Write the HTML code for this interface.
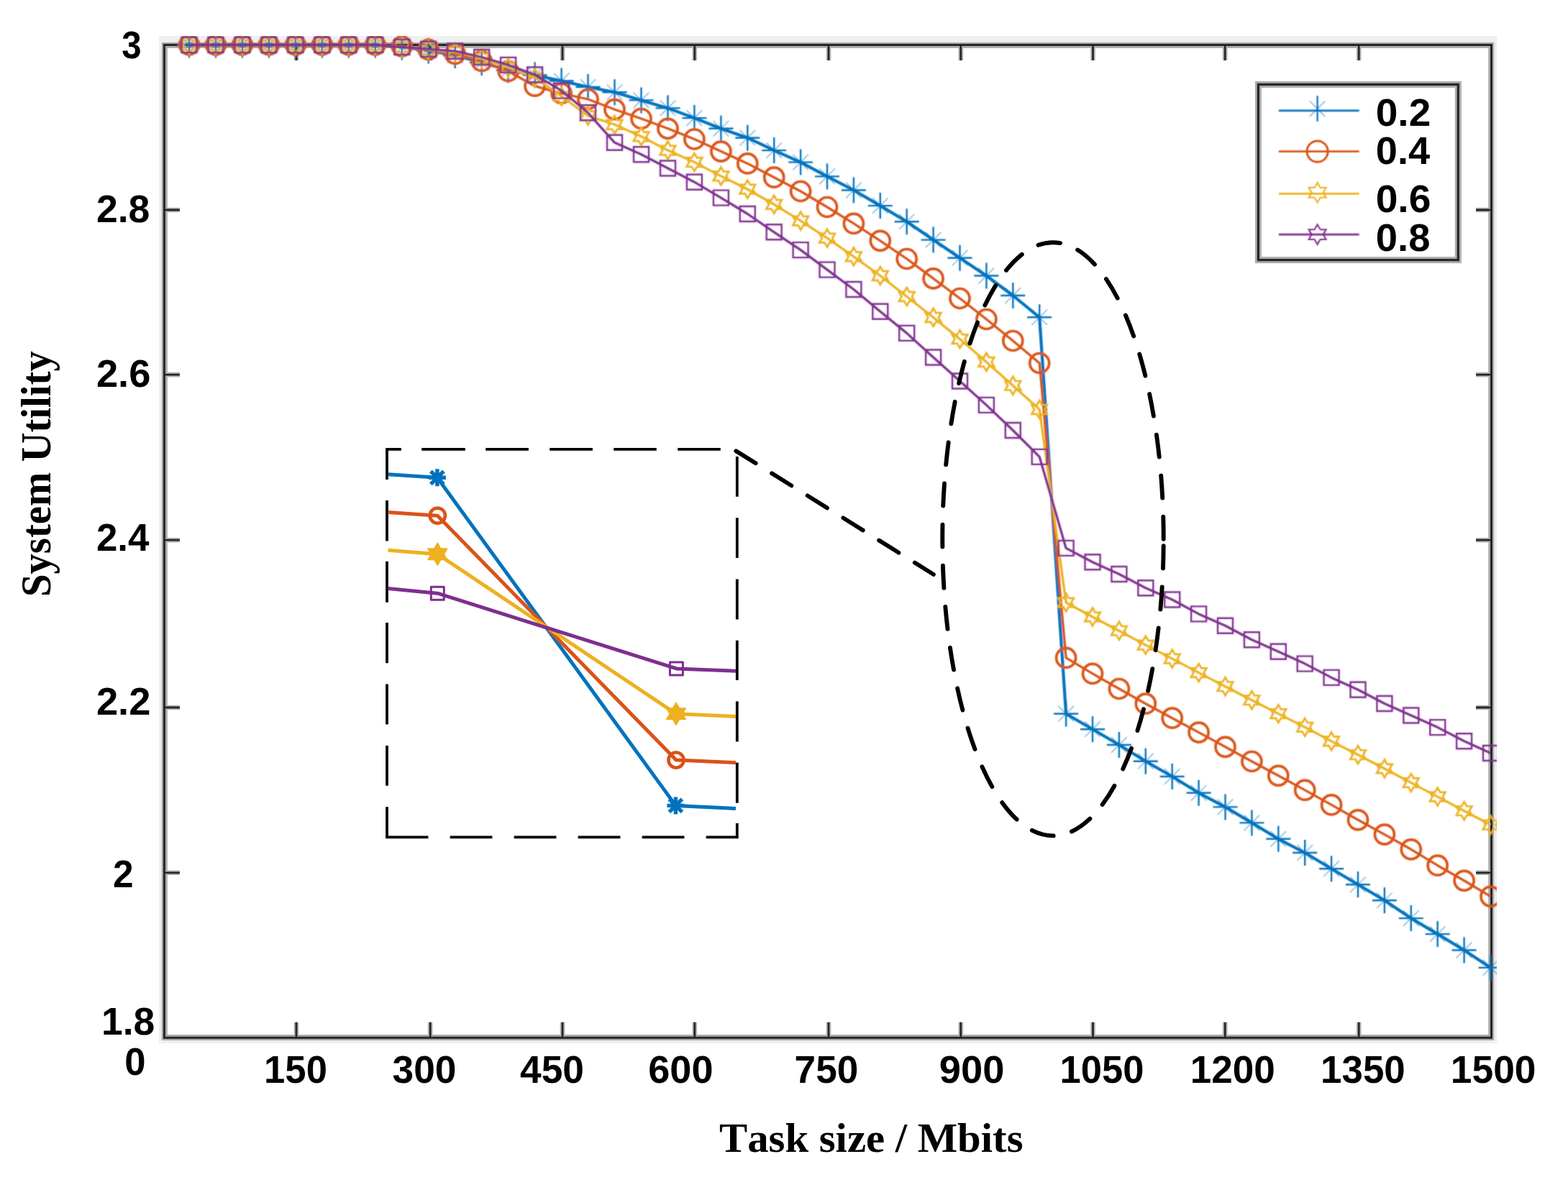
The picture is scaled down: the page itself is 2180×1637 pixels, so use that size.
<!DOCTYPE html>
<html lang="en"><head><meta charset="utf-8"><title>System Utility vs Task size</title>
<style>html,body{margin:0;padding:0;background:#fff}body{width:2180px;height:1637px;overflow:hidden}svg{display:block}.t{font-family:"Liberation Sans",sans-serif;font-weight:700;fill:#000}.s{font-family:"Liberation Serif",serif;font-weight:700;fill:#000;font-kerning:none}</style></head><body>
<svg width="2180" height="1637" viewBox="0 0 2180 1637" role="img" aria-label="System Utility versus Task size">
<clipPath id="c"><rect x="221" y="50.1" width="1860" height="1400.9"/></clipPath>
<filter id="b" x="0" y="0" width="2180" height="1637" filterUnits="userSpaceOnUse"><feGaussianBlur stdDeviation="1" result="g"/><feComposite in="SourceGraphic" in2="g" operator="arithmetic" k1="0" k2=".5" k3=".5" k4="0"/></filter>
<rect width="2180" height="1637" fill="#fff"/>
<rect x="221" y="50.1" width="1860" height="1400.9" fill="#efefef"/>
<g id="axes" fill="none">
<rect x="228.8" y="62.9" width="1844.4" height="1380.1" fill="#fff" stroke="#acacac" stroke-width="8"/>
<path d="M412 1443.3v-21.5M412 62.5v21.5M598.2 1443.3v-21.5M598.2 62.5v21.5M782 1443.3v-21.5M782 62.5v21.5M965.8 1443.3v-21.5M965.8 62.5v21.5M1152 1443.3v-21.5M1152 62.5v21.5M1335.8 1443.3v-21.5M1335.8 62.5v21.5M1519.5 1443.3v-21.5M1519.5 62.5v21.5M1703.2 1443.3v-21.5M1703.2 62.5v21.5M1889.2 1443.3v-21.5M1889.2 62.5v21.5M228.4 292h21.5M2073.5 292h-21.5M228.4 521.1h21.5M2073.5 521.1h-21.5M228.4 751.2h21.5M2073.5 751.2h-21.5M228.4 984h21.5M2073.5 984h-21.5M228.4 1213.8h21.5M2073.5 1213.8h-21.5" stroke="#b4b4b4" stroke-width="6.6"/>
<path d="M412 1443.3v-21.5M412 62.5v21.5M598.2 1443.3v-21.5M598.2 62.5v21.5M782 1443.3v-21.5M782 62.5v21.5M965.8 1443.3v-21.5M965.8 62.5v21.5M1152 1443.3v-21.5M1152 62.5v21.5M1335.8 1443.3v-21.5M1335.8 62.5v21.5M1519.5 1443.3v-21.5M1519.5 62.5v21.5M1703.2 1443.3v-21.5M1703.2 62.5v21.5M1889.2 1443.3v-21.5M1889.2 62.5v21.5M228.4 292h21.5M2073.5 292h-21.5M228.4 521.1h21.5M2073.5 521.1h-21.5M228.4 751.2h21.5M2073.5 751.2h-21.5M228.4 984h21.5M2073.5 984h-21.5M228.4 1213.8h21.5M2073.5 1213.8h-21.5" stroke="#262626" stroke-width="2.8"/>
<rect x="228.4" y="62.5" width="1845.1" height="1380.8" stroke="#262626" stroke-width="3"/>
</g>
<g id="curves" clip-path="url(#c)" fill="none" stroke-linejoin="round"><g filter="url(#b)">
<g stroke="#0072BD">
<polyline points="263,62.5 300,62.5 336.9,62.5 373.9,62.5 410.9,62.5 447.9,62.5 484.8,62.5 521.8,62.5 558.8,65.5 595.7,70.5 632.7,77 669.7,87 706.6,97.6 743.6,104.5 780.6,112.5 817.5,121 854.5,128.3 891.5,139.4 928.5,150.4 965.4,164.1 1002.4,178.8 1039.3,191.7 1076.2,209.1 1113.1,225.6 1150,245.4 1186.9,264.5 1223.8,286.1 1260.7,308.3 1297.6,333.6 1334.5,358.7 1371.4,383.5 1408.3,411 1445.2,441.3 1482.1,992.7 1519,1014.2 1555.9,1036 1592.8,1058.7 1629.7,1080 1666.6,1102.8 1703.5,1122.4 1740.4,1144.4 1777.3,1166.8 1814.2,1186 1851.1,1208.2 1888,1230.3 1924.9,1252.3 1961.8,1277.1 1998.7,1299.1 2035.6,1321.5 2072.5,1345.9" stroke-width="4.2"/>
<path d="M263 44.5V80.5M246 62.5H280M300 44.5V80.5M283 62.5H317M336.9 44.5V80.5M319.9 62.5H353.9M373.9 44.5V80.5M356.9 62.5H390.9M410.9 44.5V80.5M393.9 62.5H427.9M447.9 44.5V80.5M430.9 62.5H464.9M484.8 44.5V80.5M467.8 62.5H501.8M521.8 44.5V80.5M504.8 62.5H538.8M558.8 47.5V83.5M541.8 65.5H575.8M595.7 52.5V88.5M578.7 70.5H612.7M632.7 59V95M615.7 77H649.7M669.7 69V105M652.7 87H686.7M706.6 79.6V115.6M689.6 97.6H723.6M743.6 86.5V122.5M726.6 104.5H760.6M780.6 94.5V130.5M763.6 112.5H797.6M817.5 103V139M800.5 121H834.5M854.5 110.3V146.3M837.5 128.3H871.5M891.5 121.4V157.4M874.5 139.4H908.5M928.5 132.4V168.4M911.5 150.4H945.5M965.4 146.1V182.1M948.4 164.1H982.4M1002.4 160.8V196.8M985.4 178.8H1019.4M1039.3 173.7V209.7M1022.3 191.7H1056.3M1076.2 191.1V227.1M1059.2 209.1H1093.2M1113.1 207.6V243.6M1096.1 225.6H1130.1M1150 227.4V263.4M1133 245.4H1167M1186.9 246.5V282.5M1169.9 264.5H1203.9M1223.8 268.1V304.1M1206.8 286.1H1240.8M1260.7 290.3V326.3M1243.7 308.3H1277.7M1297.6 315.6V351.6M1280.6 333.6H1314.6M1334.5 340.7V376.7M1317.5 358.7H1351.5M1371.4 365.5V401.5M1354.4 383.5H1388.4M1408.3 393V429M1391.3 411H1425.3M1445.2 423.3V459.3M1428.2 441.3H1462.2M1482.1 974.7V1010.7M1465.1 992.7H1499.1M1519 996.2V1032.2M1502 1014.2H1536M1555.9 1018V1054M1538.9 1036H1572.9M1592.8 1040.7V1076.7M1575.8 1058.7H1609.8M1629.7 1062V1098M1612.7 1080H1646.7M1666.6 1084.8V1120.8M1649.6 1102.8H1683.6M1703.5 1104.4V1140.4M1686.5 1122.4H1720.5M1740.4 1126.4V1162.4M1723.4 1144.4H1757.4M1777.3 1148.8V1184.8M1760.3 1166.8H1794.3M1814.2 1168V1204M1797.2 1186H1831.2M1851.1 1190.2V1226.2M1834.1 1208.2H1868.1M1888 1212.3V1248.3M1871 1230.3H1905M1924.9 1234.3V1270.3M1907.9 1252.3H1941.9M1961.8 1259.1V1295.1M1944.8 1277.1H1978.8M1998.7 1281.1V1317.1M1981.7 1299.1H2015.7M2035.6 1303.5V1339.5M2018.6 1321.5H2052.6M2072.5 1327.9V1363.9M2055.5 1345.9H2089.5" stroke-width="2.4"/>
<path d="M252.2 51.7L273.8 73.3M252.2 73.3L273.8 51.7M289.2 51.7L310.8 73.3M289.2 73.3L310.8 51.7M326.1 51.7L347.7 73.3M326.1 73.3L347.7 51.7M363.1 51.7L384.7 73.3M363.1 73.3L384.7 51.7M400.1 51.7L421.7 73.3M400.1 73.3L421.7 51.7M437.1 51.7L458.7 73.3M437.1 73.3L458.7 51.7M474 51.7L495.6 73.3M474 73.3L495.6 51.7M511 51.7L532.6 73.3M511 73.3L532.6 51.7M548 54.7L569.6 76.3M548 76.3L569.6 54.7M584.9 59.7L606.5 81.3M584.9 81.3L606.5 59.7M621.9 66.2L643.5 87.8M621.9 87.8L643.5 66.2M658.9 76.2L680.5 97.8M658.9 97.8L680.5 76.2M695.8 86.8L717.4 108.4M695.8 108.4L717.4 86.8M732.8 93.7L754.4 115.3M732.8 115.3L754.4 93.7M769.8 101.7L791.4 123.3M769.8 123.3L791.4 101.7M806.8 110.2L828.3 131.8M806.8 131.8L828.3 110.2M843.7 117.5L865.3 139.1M843.7 139.1L865.3 117.5M880.7 128.6L902.3 150.2M880.7 150.2L902.3 128.6M917.7 139.6L939.3 161.2M917.7 161.2L939.3 139.6M954.6 153.3L976.2 174.9M954.6 174.9L976.2 153.3M991.6 168L1013.2 189.6M991.6 189.6L1013.2 168M1028.5 180.9L1050.1 202.5M1028.5 202.5L1050.1 180.9M1065.4 198.3L1087 219.9M1065.4 219.9L1087 198.3M1102.3 214.8L1123.9 236.4M1102.3 236.4L1123.9 214.8M1139.2 234.6L1160.8 256.2M1139.2 256.2L1160.8 234.6M1176.1 253.7L1197.7 275.3M1176.1 275.3L1197.7 253.7M1213 275.3L1234.6 296.9M1213 296.9L1234.6 275.3M1249.9 297.5L1271.5 319.1M1249.9 319.1L1271.5 297.5M1286.8 322.8L1308.4 344.4M1286.8 344.4L1308.4 322.8M1323.7 347.9L1345.3 369.5M1323.7 369.5L1345.3 347.9M1360.6 372.7L1382.2 394.3M1360.6 394.3L1382.2 372.7M1397.5 400.2L1419.1 421.8M1397.5 421.8L1419.1 400.2M1434.4 430.5L1456 452.1M1434.4 452.1L1456 430.5M1471.3 981.9L1492.9 1003.5M1471.3 1003.5L1492.9 981.9M1508.2 1003.4L1529.8 1025M1508.2 1025L1529.8 1003.4M1545.1 1025.2L1566.7 1046.8M1545.1 1046.8L1566.7 1025.2M1582 1047.9L1603.6 1069.5M1582 1069.5L1603.6 1047.9M1618.9 1069.2L1640.5 1090.8M1618.9 1090.8L1640.5 1069.2M1655.8 1092L1677.4 1113.6M1655.8 1113.6L1677.4 1092M1692.7 1111.6L1714.3 1133.2M1692.7 1133.2L1714.3 1111.6M1729.6 1133.6L1751.2 1155.2M1729.6 1155.2L1751.2 1133.6M1766.5 1156L1788.1 1177.6M1766.5 1177.6L1788.1 1156M1803.4 1175.2L1825 1196.8M1803.4 1196.8L1825 1175.2M1840.3 1197.4L1861.9 1219M1840.3 1219L1861.9 1197.4M1877.2 1219.5L1898.8 1241.1M1877.2 1241.1L1898.8 1219.5M1914.1 1241.5L1935.7 1263.1M1914.1 1263.1L1935.7 1241.5M1951 1266.3L1972.6 1287.9M1951 1287.9L1972.6 1266.3M1987.9 1288.3L2009.5 1309.9M1987.9 1309.9L2009.5 1288.3M2024.8 1310.7L2046.4 1332.3M2024.8 1332.3L2046.4 1310.7M2061.7 1335.1L2083.3 1356.7M2061.7 1356.7L2083.3 1335.1" stroke-width="1.7" stroke-opacity=".45"/>
</g>
<g stroke="#D95319">
<polyline points="263,62.5 300,62.5 336.9,62.5 373.9,62.5 410.9,62.5 447.9,62.5 484.8,62.5 521.8,62.5 558.8,64.5 595.7,69 632.7,75 669.7,85 706.6,99 743.6,119.7 780.6,130 817.5,138 854.5,152.2 891.5,165 928.5,178.8 965.4,193.5 1002.4,210.6 1039.3,227.4 1076.2,246.7 1113.1,266 1150,288 1186.9,310.9 1223.8,334.8 1260.7,360 1297.6,387.3 1334.5,415 1371.4,444 1408.3,474 1445.2,505 1482.1,914.9 1519,936.9 1555.9,958 1592.8,978.7 1629.7,998.7 1666.6,1018.6 1703.5,1038.8 1740.4,1059 1777.3,1078.8 1814.2,1098.9 1851.1,1119.4 1888,1140.3 1924.9,1160.6 1961.8,1181.3 1998.7,1203.7 2035.6,1224.8 2072.5,1246.8" stroke-width="3.3"/>
<path d="M249.5 62.5a13.5 13.5 0 1 0 27 0a13.5 13.5 0 1 0 -27 0ZM286.5 62.5a13.5 13.5 0 1 0 27 0a13.5 13.5 0 1 0 -27 0ZM323.4 62.5a13.5 13.5 0 1 0 27 0a13.5 13.5 0 1 0 -27 0ZM360.4 62.5a13.5 13.5 0 1 0 27 0a13.5 13.5 0 1 0 -27 0ZM397.4 62.5a13.5 13.5 0 1 0 27 0a13.5 13.5 0 1 0 -27 0ZM434.4 62.5a13.5 13.5 0 1 0 27 0a13.5 13.5 0 1 0 -27 0ZM471.3 62.5a13.5 13.5 0 1 0 27 0a13.5 13.5 0 1 0 -27 0ZM508.3 62.5a13.5 13.5 0 1 0 27 0a13.5 13.5 0 1 0 -27 0ZM545.3 64.5a13.5 13.5 0 1 0 27 0a13.5 13.5 0 1 0 -27 0ZM582.2 69a13.5 13.5 0 1 0 27 0a13.5 13.5 0 1 0 -27 0ZM619.2 75a13.5 13.5 0 1 0 27 0a13.5 13.5 0 1 0 -27 0ZM656.2 85a13.5 13.5 0 1 0 27 0a13.5 13.5 0 1 0 -27 0ZM693.1 99a13.5 13.5 0 1 0 27 0a13.5 13.5 0 1 0 -27 0ZM730.1 119.7a13.5 13.5 0 1 0 27 0a13.5 13.5 0 1 0 -27 0ZM767.1 130a13.5 13.5 0 1 0 27 0a13.5 13.5 0 1 0 -27 0ZM804 138a13.5 13.5 0 1 0 27 0a13.5 13.5 0 1 0 -27 0ZM841 152.2a13.5 13.5 0 1 0 27 0a13.5 13.5 0 1 0 -27 0ZM878 165a13.5 13.5 0 1 0 27 0a13.5 13.5 0 1 0 -27 0ZM915 178.8a13.5 13.5 0 1 0 27 0a13.5 13.5 0 1 0 -27 0ZM951.9 193.5a13.5 13.5 0 1 0 27 0a13.5 13.5 0 1 0 -27 0ZM988.9 210.6a13.5 13.5 0 1 0 27 0a13.5 13.5 0 1 0 -27 0ZM1025.8 227.4a13.5 13.5 0 1 0 27 0a13.5 13.5 0 1 0 -27 0ZM1062.7 246.7a13.5 13.5 0 1 0 27 0a13.5 13.5 0 1 0 -27 0ZM1099.6 266a13.5 13.5 0 1 0 27 0a13.5 13.5 0 1 0 -27 0ZM1136.5 288a13.5 13.5 0 1 0 27 0a13.5 13.5 0 1 0 -27 0ZM1173.4 310.9a13.5 13.5 0 1 0 27 0a13.5 13.5 0 1 0 -27 0ZM1210.3 334.8a13.5 13.5 0 1 0 27 0a13.5 13.5 0 1 0 -27 0ZM1247.2 360a13.5 13.5 0 1 0 27 0a13.5 13.5 0 1 0 -27 0ZM1284.1 387.3a13.5 13.5 0 1 0 27 0a13.5 13.5 0 1 0 -27 0ZM1321 415a13.5 13.5 0 1 0 27 0a13.5 13.5 0 1 0 -27 0ZM1357.9 444a13.5 13.5 0 1 0 27 0a13.5 13.5 0 1 0 -27 0ZM1394.8 474a13.5 13.5 0 1 0 27 0a13.5 13.5 0 1 0 -27 0ZM1431.7 505a13.5 13.5 0 1 0 27 0a13.5 13.5 0 1 0 -27 0ZM1468.6 914.9a13.5 13.5 0 1 0 27 0a13.5 13.5 0 1 0 -27 0ZM1505.5 936.9a13.5 13.5 0 1 0 27 0a13.5 13.5 0 1 0 -27 0ZM1542.4 958a13.5 13.5 0 1 0 27 0a13.5 13.5 0 1 0 -27 0ZM1579.3 978.7a13.5 13.5 0 1 0 27 0a13.5 13.5 0 1 0 -27 0ZM1616.2 998.7a13.5 13.5 0 1 0 27 0a13.5 13.5 0 1 0 -27 0ZM1653.1 1018.6a13.5 13.5 0 1 0 27 0a13.5 13.5 0 1 0 -27 0ZM1690 1038.8a13.5 13.5 0 1 0 27 0a13.5 13.5 0 1 0 -27 0ZM1726.9 1059a13.5 13.5 0 1 0 27 0a13.5 13.5 0 1 0 -27 0ZM1763.8 1078.8a13.5 13.5 0 1 0 27 0a13.5 13.5 0 1 0 -27 0ZM1800.7 1098.9a13.5 13.5 0 1 0 27 0a13.5 13.5 0 1 0 -27 0ZM1837.6 1119.4a13.5 13.5 0 1 0 27 0a13.5 13.5 0 1 0 -27 0ZM1874.5 1140.3a13.5 13.5 0 1 0 27 0a13.5 13.5 0 1 0 -27 0ZM1911.4 1160.6a13.5 13.5 0 1 0 27 0a13.5 13.5 0 1 0 -27 0ZM1948.3 1181.3a13.5 13.5 0 1 0 27 0a13.5 13.5 0 1 0 -27 0ZM1985.2 1203.7a13.5 13.5 0 1 0 27 0a13.5 13.5 0 1 0 -27 0ZM2022.1 1224.8a13.5 13.5 0 1 0 27 0a13.5 13.5 0 1 0 -27 0ZM2059 1246.8a13.5 13.5 0 1 0 27 0a13.5 13.5 0 1 0 -27 0Z" stroke-width="3.7"/>
</g>
<g stroke="#EDB120">
<polyline points="263,62.5 300,62.5 336.9,62.5 373.9,62.5 410.9,62.5 447.9,62.5 484.8,62.5 521.8,62.5 558.8,65.5 595.7,69 632.7,72.5 669.7,81 706.6,94 743.6,108 780.6,134 817.5,161 854.5,173.3 891.5,189.8 928.5,209.1 965.4,225.6 1002.4,244.9 1039.3,263.2 1076.2,284.3 1113.1,307.2 1150,331.1 1186.9,356.8 1223.8,383.5 1260.7,412.5 1297.6,441.5 1334.5,471.6 1371.4,503.5 1408.3,536.3 1445.2,569.5 1482.1,838 1519,858 1555.9,877.2 1592.8,897.1 1629.7,916.1 1666.6,935.6 1703.5,954.7 1740.4,973.7 1777.3,992.6 1814.2,1011.4 1851.1,1030.9 1888,1049.7 1924.9,1069 1961.8,1088.6 1998.7,1108.1 2035.6,1127.7 2072.5,1147.3" stroke-width="3.3"/>
<path d="M263 50L266.6 56.2L273.8 56.2L270.2 62.5L273.8 68.8L266.6 68.8L263 75L259.4 68.8L252.2 68.8L255.8 62.5L252.2 56.2L259.4 56.2ZM300 50L303.6 56.2L310.8 56.2L307.2 62.5L310.8 68.8L303.6 68.8L300 75L296.4 68.8L289.1 68.8L292.8 62.5L289.1 56.2L296.4 56.2ZM336.9 50L340.5 56.2L347.8 56.2L344.2 62.5L347.8 68.8L340.5 68.8L336.9 75L333.3 68.8L326.1 68.8L329.7 62.5L326.1 56.2L333.3 56.2ZM373.9 50L377.5 56.2L384.7 56.2L381.1 62.5L384.7 68.8L377.5 68.8L373.9 75L370.3 68.8L363.1 68.8L366.7 62.5L363.1 56.2L370.3 56.2ZM410.9 50L414.5 56.2L421.7 56.2L418.1 62.5L421.7 68.8L414.5 68.8L410.9 75L407.3 68.8L400.1 68.8L403.7 62.5L400.1 56.2L407.3 56.2ZM447.9 50L451.5 56.2L458.7 56.2L455.1 62.5L458.7 68.8L451.5 68.8L447.9 75L444.2 68.8L437 68.8L440.6 62.5L437 56.2L444.2 56.2ZM484.8 50L488.4 56.2L495.6 56.2L492 62.5L495.6 68.8L488.4 68.8L484.8 75L481.2 68.8L474 68.8L477.6 62.5L474 56.2L481.2 56.2ZM521.8 50L525.4 56.2L532.6 56.2L529 62.5L532.6 68.8L525.4 68.8L521.8 75L518.2 68.8L511 68.8L514.6 62.5L511 56.2L518.2 56.2ZM558.8 53L562.4 59.2L569.6 59.2L566 65.5L569.6 71.8L562.4 71.8L558.8 78L555.2 71.8L547.9 71.8L551.5 65.5L547.9 59.2L555.2 59.2ZM595.7 56.5L599.3 62.8L606.6 62.8L602.9 69L606.6 75.2L599.3 75.2L595.7 81.5L592.1 75.2L584.9 75.2L588.5 69L584.9 62.8L592.1 62.8ZM632.7 60L636.3 66.2L643.5 66.2L639.9 72.5L643.5 78.8L636.3 78.8L632.7 85L629.1 78.8L621.9 78.8L625.5 72.5L621.9 66.2L629.1 66.2ZM669.7 68.5L673.3 74.8L680.5 74.8L676.9 81L680.5 87.2L673.3 87.2L669.7 93.5L666.1 87.2L658.8 87.2L662.5 81L658.8 74.8L666.1 74.8ZM706.6 81.5L710.2 87.8L717.5 87.8L713.9 94L717.5 100.2L710.2 100.2L706.6 106.5L703 100.2L695.8 100.2L699.4 94L695.8 87.8L703 87.8ZM743.6 95.5L747.2 101.8L754.4 101.8L750.8 108L754.4 114.2L747.2 114.2L743.6 120.5L740 114.2L732.8 114.2L736.4 108L732.8 101.8L740 101.8ZM780.6 121.5L784.2 127.8L791.4 127.8L787.8 134L791.4 140.2L784.2 140.2L780.6 146.5L777 140.2L769.8 140.2L773.4 134L769.8 127.8L777 127.8ZM817.5 148.5L821.2 154.8L828.4 154.8L824.8 161L828.4 167.2L821.2 167.2L817.5 173.5L813.9 167.2L806.7 167.2L810.3 161L806.7 154.8L813.9 154.8ZM854.5 160.8L858.1 167.1L865.3 167.1L861.7 173.3L865.3 179.6L858.1 179.6L854.5 185.8L850.9 179.6L843.7 179.6L847.3 173.3L843.7 167.1L850.9 167.1ZM891.5 177.3L895.1 183.6L902.3 183.6L898.7 189.8L902.3 196.1L895.1 196.1L891.5 202.3L887.9 196.1L880.7 196.1L884.3 189.8L880.7 183.6L887.9 183.6ZM928.5 196.6L932.1 202.8L939.3 202.8L935.7 209.1L939.3 215.3L932.1 215.3L928.5 221.6L924.9 215.3L917.6 215.3L921.2 209.1L917.6 202.8L924.9 202.8ZM965.4 213.1L969 219.3L976.3 219.3L972.6 225.6L976.3 231.8L969 231.8L965.4 238.1L961.8 231.8L954.6 231.8L958.2 225.6L954.6 219.3L961.8 219.3ZM1002.4 232.4L1006 238.7L1013.2 238.7L1009.6 244.9L1013.2 251.2L1006 251.2L1002.4 257.4L998.8 251.2L991.6 251.2L995.2 244.9L991.6 238.7L998.8 238.7ZM1039.3 250.7L1042.9 256.9L1050.1 256.9L1046.5 263.2L1050.1 269.4L1042.9 269.4L1039.3 275.7L1035.7 269.4L1028.5 269.4L1032.1 263.2L1028.5 256.9L1035.7 256.9ZM1076.2 271.8L1079.8 278.1L1087 278.1L1083.4 284.3L1087 290.6L1079.8 290.6L1076.2 296.8L1072.6 290.6L1065.4 290.6L1069 284.3L1065.4 278.1L1072.6 278.1ZM1113.1 294.7L1116.7 300.9L1123.9 300.9L1120.3 307.2L1123.9 313.4L1116.7 313.4L1113.1 319.7L1109.5 313.4L1102.3 313.4L1105.9 307.2L1102.3 300.9L1109.5 300.9ZM1150 318.6L1153.6 324.9L1160.8 324.9L1157.2 331.1L1160.8 337.4L1153.6 337.4L1150 343.6L1146.4 337.4L1139.2 337.4L1142.8 331.1L1139.2 324.9L1146.4 324.9ZM1186.9 344.3L1190.5 350.6L1197.7 350.6L1194.1 356.8L1197.7 363.1L1190.5 363.1L1186.9 369.3L1183.3 363.1L1176.1 363.1L1179.7 356.8L1176.1 350.6L1183.3 350.6ZM1223.8 371L1227.4 377.2L1234.6 377.2L1231 383.5L1234.6 389.8L1227.4 389.8L1223.8 396L1220.2 389.8L1213 389.8L1216.6 383.5L1213 377.2L1220.2 377.2ZM1260.7 400L1264.3 406.2L1271.5 406.2L1267.9 412.5L1271.5 418.8L1264.3 418.8L1260.7 425L1257.1 418.8L1249.9 418.8L1253.5 412.5L1249.9 406.2L1257.1 406.2ZM1297.6 429L1301.2 435.2L1308.4 435.2L1304.8 441.5L1308.4 447.8L1301.2 447.8L1297.6 454L1294 447.8L1286.8 447.8L1290.4 441.5L1286.8 435.2L1294 435.2ZM1334.5 459.1L1338.1 465.4L1345.3 465.4L1341.7 471.6L1345.3 477.9L1338.1 477.9L1334.5 484.1L1330.9 477.9L1323.7 477.9L1327.3 471.6L1323.7 465.4L1330.9 465.4ZM1371.4 491L1375 497.2L1382.2 497.2L1378.6 503.5L1382.2 509.8L1375 509.8L1371.4 516L1367.8 509.8L1360.6 509.8L1364.2 503.5L1360.6 497.2L1367.8 497.2ZM1408.3 523.8L1411.9 530L1419.1 530L1415.5 536.3L1419.1 542.5L1411.9 542.5L1408.3 548.8L1404.7 542.5L1397.5 542.5L1401.1 536.3L1397.5 530L1404.7 530ZM1445.2 557L1448.8 563.2L1456 563.2L1452.4 569.5L1456 575.8L1448.8 575.8L1445.2 582L1441.6 575.8L1434.4 575.8L1438 569.5L1434.4 563.2L1441.6 563.2ZM1482.1 825.5L1485.7 831.8L1492.9 831.8L1489.3 838L1492.9 844.2L1485.7 844.2L1482.1 850.5L1478.5 844.2L1471.3 844.2L1474.9 838L1471.3 831.8L1478.5 831.8ZM1519 845.5L1522.6 851.8L1529.8 851.8L1526.2 858L1529.8 864.2L1522.6 864.2L1519 870.5L1515.4 864.2L1508.2 864.2L1511.8 858L1508.2 851.8L1515.4 851.8ZM1555.9 864.7L1559.5 871L1566.7 871L1563.1 877.2L1566.7 883.5L1559.5 883.5L1555.9 889.7L1552.3 883.5L1545.1 883.5L1548.7 877.2L1545.1 871L1552.3 871ZM1592.8 884.6L1596.4 890.9L1603.6 890.9L1600 897.1L1603.6 903.4L1596.4 903.4L1592.8 909.6L1589.2 903.4L1582 903.4L1585.6 897.1L1582 890.9L1589.2 890.9ZM1629.7 903.6L1633.3 909.9L1640.5 909.9L1636.9 916.1L1640.5 922.4L1633.3 922.4L1629.7 928.6L1626.1 922.4L1618.9 922.4L1622.5 916.1L1618.9 909.9L1626.1 909.9ZM1666.6 923.1L1670.2 929.4L1677.4 929.4L1673.8 935.6L1677.4 941.9L1670.2 941.9L1666.6 948.1L1663 941.9L1655.8 941.9L1659.4 935.6L1655.8 929.4L1663 929.4ZM1703.5 942.2L1707.1 948.5L1714.3 948.5L1710.7 954.7L1714.3 961L1707.1 961L1703.5 967.2L1699.9 961L1692.7 961L1696.3 954.7L1692.7 948.5L1699.9 948.5ZM1740.4 961.2L1744 967.5L1751.2 967.5L1747.6 973.7L1751.2 980L1744 980L1740.4 986.2L1736.8 980L1729.6 980L1733.2 973.7L1729.6 967.5L1736.8 967.5ZM1777.3 980.1L1780.9 986.4L1788.1 986.4L1784.5 992.6L1788.1 998.9L1780.9 998.9L1777.3 1005.1L1773.7 998.9L1766.5 998.9L1770.1 992.6L1766.5 986.4L1773.7 986.4ZM1814.2 998.9L1817.8 1005.1L1825 1005.1L1821.4 1011.4L1825 1017.6L1817.8 1017.6L1814.2 1023.9L1810.6 1017.6L1803.4 1017.6L1807 1011.4L1803.4 1005.1L1810.6 1005.1ZM1851.1 1018.4L1854.7 1024.7L1861.9 1024.7L1858.3 1030.9L1861.9 1037.2L1854.7 1037.2L1851.1 1043.4L1847.5 1037.2L1840.3 1037.2L1843.9 1030.9L1840.3 1024.7L1847.5 1024.7ZM1888 1037.2L1891.6 1043.5L1898.8 1043.5L1895.2 1049.7L1898.8 1056L1891.6 1056L1888 1062.2L1884.4 1056L1877.2 1056L1880.8 1049.7L1877.2 1043.5L1884.4 1043.5ZM1924.9 1056.5L1928.5 1062.8L1935.7 1062.8L1932.1 1069L1935.7 1075.2L1928.5 1075.2L1924.9 1081.5L1921.3 1075.2L1914.1 1075.2L1917.7 1069L1914.1 1062.8L1921.3 1062.8ZM1961.8 1076.1L1965.4 1082.3L1972.6 1082.3L1969 1088.6L1972.6 1094.8L1965.4 1094.8L1961.8 1101.1L1958.2 1094.8L1951 1094.8L1954.6 1088.6L1951 1082.3L1958.2 1082.3ZM1998.7 1095.6L2002.3 1101.8L2009.5 1101.8L2005.9 1108.1L2009.5 1114.3L2002.3 1114.3L1998.7 1120.6L1995.1 1114.3L1987.9 1114.3L1991.5 1108.1L1987.9 1101.8L1995.1 1101.8ZM2035.6 1115.2L2039.2 1121.5L2046.4 1121.5L2042.8 1127.7L2046.4 1134L2039.2 1134L2035.6 1140.2L2032 1134L2024.8 1134L2028.4 1127.7L2024.8 1121.5L2032 1121.5ZM2072.5 1134.8L2076.1 1141L2083.3 1141L2079.7 1147.3L2083.3 1153.5L2076.1 1153.5L2072.5 1159.8L2068.9 1153.5L2061.7 1153.5L2065.3 1147.3L2061.7 1141L2068.9 1141Z" stroke-width="2.7" stroke-linejoin="miter"/>
</g>
<g stroke="#7E2F8E">
<polyline points="263,62.5 300,62.5 336.9,62.5 373.9,62.5 410.9,62.5 447.9,62.5 484.8,62.5 521.8,62.5 558.8,65.5 595.7,68.4 632.7,71.2 669.7,79.5 706.6,90.4 743.6,104 780.6,126.1 817.5,156.8 854.5,198.3 891.5,214.7 928.5,234 965.4,253.2 1002.4,275.1 1039.3,297.5 1076.2,322.8 1113.1,347.6 1150,375.1 1186.9,402.5 1223.8,433.3 1260.7,463.4 1297.6,497 1334.5,530 1371.4,563.4 1408.3,598.5 1445.2,635.4 1482.1,762.4 1519,781.8 1555.9,798.5 1592.8,817.8 1629.7,834 1666.6,853.9 1703.5,870.3 1740.4,889.7 1777.3,906.2 1814.2,923.1 1851.1,942.4 1888,959.3 1924.9,978.5 1961.8,995 1998.7,1011.6 2035.6,1030.8 2072.5,1047.5" stroke-width="3.3"/>
<path d="M252.5 52h21v21h-21ZM289.5 52h21v21h-21ZM326.4 52h21v21h-21ZM363.4 52h21v21h-21ZM400.4 52h21v21h-21ZM437.4 52h21v21h-21ZM474.3 52h21v21h-21ZM511.3 52h21v21h-21ZM548.3 55h21v21h-21ZM585.2 57.9h21v21h-21ZM622.2 60.7h21v21h-21ZM659.2 69h21v21h-21ZM696.1 79.9h21v21h-21ZM733.1 93.5h21v21h-21ZM770.1 115.6h21v21h-21ZM807 146.3h21v21h-21ZM844 187.8h21v21h-21ZM881 204.2h21v21h-21ZM918 223.5h21v21h-21ZM954.9 242.7h21v21h-21ZM991.9 264.6h21v21h-21ZM1028.8 287h21v21h-21ZM1065.7 312.3h21v21h-21ZM1102.6 337.1h21v21h-21ZM1139.5 364.6h21v21h-21ZM1176.4 392h21v21h-21ZM1213.3 422.8h21v21h-21ZM1250.2 452.9h21v21h-21ZM1287.1 486.5h21v21h-21ZM1324 519.5h21v21h-21ZM1360.9 552.9h21v21h-21ZM1397.8 588h21v21h-21ZM1434.7 624.9h21v21h-21ZM1471.6 751.9h21v21h-21ZM1508.5 771.3h21v21h-21ZM1545.4 788h21v21h-21ZM1582.3 807.3h21v21h-21ZM1619.2 823.5h21v21h-21ZM1656.1 843.4h21v21h-21ZM1693 859.8h21v21h-21ZM1729.9 879.2h21v21h-21ZM1766.8 895.7h21v21h-21ZM1803.7 912.6h21v21h-21ZM1840.6 931.9h21v21h-21ZM1877.5 948.8h21v21h-21ZM1914.4 968h21v21h-21ZM1951.3 984.5h21v21h-21ZM1988.2 1001.1h21v21h-21ZM2025.1 1020.3h21v21h-21ZM2062 1037h21v21h-21Z" stroke-width="2.4" stroke-linejoin="miter"/>
</g>
</g></g>
<g id="annot" fill="none" stroke="#000">
<path id="ell" d="M1617.7 749.8A153.7 412.2 0 1 0 1310.3 749.8A153.7 412.2 0 1 0 1617.7 749.8" stroke-width="5.9" stroke-linecap="round" stroke-dasharray="31.1 26.16"/>
<path d="M1023.3 627.2L1297.9 798.9" stroke-width="5.8" stroke-linecap="round" stroke-dasharray="32.3 26.3"/>
<path d="M536.2 624.8H557.8M586.2 624.8H646.8M675.2 624.8H734.9M764.2 624.8H823.9M853.2 624.8H912.8M942.2 624.8H1001.8M536.2 1164.4H595.4M625.7 1164.4H684.4M714.7 1164.4H773.4M803.7 1164.4H862.4M892.7 1164.4H951.4M981.7 1164.4H1026.6M538 623V667.1M538 696.1V752.4M538 780.8V837.7M538 866.1V922.2M538 951.6V1007.5M538 1036.9V1092.8M538 1122.2V1166.2M1024.8 634.9V690.8M1024.8 720.2V776.1M1024.8 805.5V861.5M1024.8 890.8V946.1M1024.8 975.4V1031.4M1024.8 1060.7V1116.7M1024.8 1145.1V1166.2" stroke-width="3.8"/>
</g>
<g id="inset" fill="none" stroke-width="5" stroke-linejoin="round">
<polyline points="539.6,659.7 607.9,664.3 939.4,1120.4 1023,1124.6" stroke="#0072BD"/>
<polyline points="539.6,712.6 608.3,717.2 940,1057.1 1023,1060.7" stroke="#D95319"/>
<polyline points="539.6,765.2 608.3,770.7 940,992.8 1023,996.5" stroke="#EDB120"/>
<polyline points="539.6,818.4 608.3,825.2 940.4,929.9 1023,933.2" stroke="#7E2F8E"/>
<path d="M607.9 652.3V676.3M595.9 664.3H619.9M598.9 655.3L616.9 673.3M598.9 673.3L616.9 655.3" stroke="#0072BD" stroke-width="5.4"/>
<path d="M939.4 1108.4V1132.4M927.4 1120.4H951.4M930.4 1111.4L948.4 1129.4M930.4 1129.4L948.4 1111.4" stroke="#0072BD" stroke-width="5.4"/>
<circle cx="608.3" cy="717.2" r="10.6" stroke="#D95319" stroke-width="4.6"/>
<circle cx="940" cy="1057.1" r="10.6" stroke="#D95319" stroke-width="4.6"/>
<path d="M608.3 755.2L612.8 763L621.7 763L617.2 770.7L621.7 778.5L612.8 778.5L608.3 786.2L603.8 778.5L594.9 778.5L599.4 770.7L594.9 763L603.8 763Z" fill="#EDB120" stroke="#EDB120" stroke-width="1.5"/>
<path d="M940 977.3L944.5 985L953.4 985L948.9 992.8L953.4 1000.5L944.5 1000.5L940 1008.3L935.5 1000.5L926.6 1000.5L931.1 992.8L926.6 985L935.5 985Z" fill="#EDB120" stroke="#EDB120" stroke-width="1.5"/>
<path d="M599.3 816.2h18v18h-18Z" stroke="#7E2F8E" stroke-width="3"/>
<path d="M931.4 920.9h18v18h-18Z" stroke="#7E2F8E" stroke-width="3"/>
</g>
<g id="legend" fill="none">
<rect x="1749.4" y="117.5" width="277.9" height="244.1" fill="#fff" stroke="#adadad" stroke-width="9"/>
<rect x="1749.4" y="117.5" width="277.9" height="244.1" stroke="#262626" stroke-width="3.2"/>
<g filter="url(#b)">
<path d="M1777.8 153.9H1889.7" stroke="#0072BD" stroke-width="2.9"/>
<path d="M1777.8 210.6H1889.7" stroke="#D95319" stroke-width="2.9"/>
<path d="M1777.8 269.4H1889.7" stroke="#EDB120" stroke-width="2.9"/>
<path d="M1777.8 326.1H1889.7" stroke="#7E2F8E" stroke-width="2.9"/>
<path d="M1831.6 133.2V168.9" stroke="#0072BD" stroke-width="2.3"/><path d="M1820.8 140.5L1842.4 162.1M1820.8 162.1L1842.4 140.5" stroke="#0072BD" stroke-width="1.6" stroke-opacity=".5"/>
<path d="M1817 210.6a14.6 14.6 0 1 0 29.2 0a14.6 14.6 0 1 0 -29.2 0Z" stroke="#D95319" stroke-width="3"/>
<path d="M1831.6 254.1L1835.6 261L1843.6 261L1839.6 267.9L1843.6 274.8L1835.6 274.8L1831.6 281.7L1827.6 274.8L1819.6 274.8L1823.6 267.9L1819.6 261L1827.6 261Z" stroke="#EDB120" stroke-width="2.1"/>
<path d="M1831.6 312.3L1835.6 319.2L1843.6 319.2L1839.6 326.1L1843.6 333L1835.6 333L1831.6 339.9L1827.6 333L1819.6 333L1823.6 326.1L1819.6 319.2L1827.6 319.2Z" stroke="#7E2F8E" stroke-width="2.1"/>
</g>
</g>
<g id="labels">
<text class="t" x="169.3" y="80.6" font-size="53.5" textLength="27.4" lengthAdjust="spacingAndGlyphs">3</text>
<text class="t" x="133.9" y="309.3" font-size="53.5" textLength="74.5" lengthAdjust="spacingAndGlyphs">2.8</text>
<text class="t" x="133.9" y="537.5" font-size="53.5" textLength="75.5" lengthAdjust="spacingAndGlyphs">2.6</text>
<text class="t" x="133.9" y="766.3" font-size="53.5" textLength="73.5" lengthAdjust="spacingAndGlyphs">2.4</text>
<text class="t" x="133.9" y="994" font-size="53.5" textLength="75.5" lengthAdjust="spacingAndGlyphs">2.2</text>
<text class="t" x="157" y="1233.9" font-size="53.5" textLength="28.6" lengthAdjust="spacingAndGlyphs">2</text>
<text class="t" x="141" y="1439.3" font-size="53.5" textLength="74.3" lengthAdjust="spacingAndGlyphs">1.8</text>
<text class="t" x="173.2" y="1494.6" font-size="53.5" textLength="29.3" lengthAdjust="spacingAndGlyphs">0</text>
<text class="t" x="367.1" y="1506.2" font-size="53.5" textLength="87.8" lengthAdjust="spacingAndGlyphs">150</text>
<text class="t" x="545.5" y="1506.2" font-size="53.5" textLength="88.9" lengthAdjust="spacingAndGlyphs">300</text>
<text class="t" x="723" y="1506.2" font-size="53.5" textLength="88.9" lengthAdjust="spacingAndGlyphs">450</text>
<text class="t" x="901.3" y="1506.2" font-size="53.5" textLength="90.2" lengthAdjust="spacingAndGlyphs">600</text>
<text class="t" x="1104.6" y="1506.2" font-size="53.5" textLength="88.6" lengthAdjust="spacingAndGlyphs">750</text>
<text class="t" x="1305.8" y="1506.2" font-size="53.5" textLength="90.5" lengthAdjust="spacingAndGlyphs">900</text>
<text class="t" x="1473.6" y="1506.2" font-size="53.5" textLength="116.8" lengthAdjust="spacingAndGlyphs">1050</text>
<text class="t" x="1654.8" y="1506.2" font-size="53.5" textLength="118.1" lengthAdjust="spacingAndGlyphs">1200</text>
<text class="t" x="1836.1" y="1506.2" font-size="53.5" textLength="117.6" lengthAdjust="spacingAndGlyphs">1350</text>
<text class="t" x="2016.8" y="1506.2" font-size="53.5" textLength="118.7" lengthAdjust="spacingAndGlyphs">1500</text>
<text class="t" x="1912.8" y="174.5" font-size="53.5" textLength="76.4" lengthAdjust="spacingAndGlyphs">0.2</text>
<text class="t" x="1912.8" y="227.9" font-size="53.5" textLength="75.2" lengthAdjust="spacingAndGlyphs">0.4</text>
<text class="t" x="1912.7" y="294.8" font-size="53.5" textLength="76.7" lengthAdjust="spacingAndGlyphs">0.6</text>
<text class="t" x="1912.8" y="348.9" font-size="53.5" textLength="75.6" lengthAdjust="spacingAndGlyphs">0.8</text>
<text class="s" x="1000" y="1602" font-size="58" textLength="422.5" lengthAdjust="spacingAndGlyphs">Task size / Mbits</text>
<text class="s" transform="translate(70.4 830.1) rotate(-90)" font-size="59.5" textLength="342" lengthAdjust="spacingAndGlyphs">System Utility</text>
</g>
</svg></body></html>
